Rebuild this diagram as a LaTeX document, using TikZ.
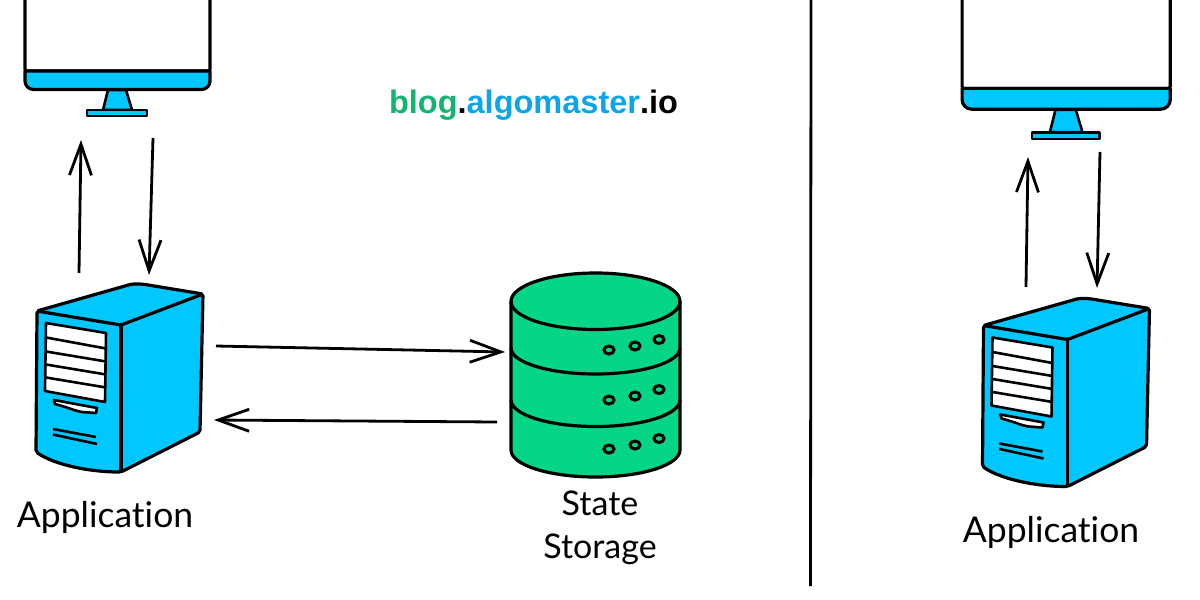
\documentclass[tikz,border=0pt]{standalone}
\usepackage{fontspec}
\setmainfont[Ligatures=NoCommon]{Lato}
\newfontfamily\blogfont{Liberation Sans}
\usetikzlibrary{arrows.meta}
\definecolor{boxblue}{HTML}{00C8FF}
\definecolor{dbgreen}{HTML}{05D586}
\definecolor{logogreen}{HTML}{10B56F}
\definecolor{logoblue}{HTML}{0BA5E9}
\tikzset{
	flow/.style={-{Straight Barb[length=31pt,width=22pt,line width=2.8pt]}, line width=2.8pt},
	outline/.style={draw=black, line width=3.2pt, line join=round, rounded corners=2pt},
	thin outline/.style={draw=black, line width=2.6pt, line join=round},
	caption/.style={font=\fontsize{35.5}{36}\selectfont, align=center},
	led/.style={draw=black, line width=3pt},
	pics/monitor/.style={code={
		\draw[outline, fill=white] (25,-10) -- (25,71) -- (210,71) -- (210,-10);
		\draw[outline, rounded corners=0pt, fill=boxblue] (25,71) -- (25,81) arc[start angle=180, end angle=90, radius=8.5] -- (201.5,89.5) arc[start angle=90, end angle=0, radius=8.5] -- (210,71) -- cycle;
		\draw[thin outline, fill=boxblue] (108,90) -- (103,110) -- (132,110) -- (126,90) -- cycle;
		\draw[thin outline, fill=boxblue] (87,110) rectangle (147,116);
	}},
	pics/server/.style={code={
		\draw[outline, fill=boxblue] (37,311) -- (132,284) -- (142,284) -- (203,294) -- (200,432) -- (121,472) .. controls (90,472) and (55,465) .. (36,452) -- cycle;
		\draw[outline] (37,311) -- (121,325) -- (203,294);
		\draw[outline] (121,325) -- (121,472);
		\draw[thin outline, fill=white] (46,323) -- (106,333) -- (105,402) -- (45,391) -- cycle;
		\foreach \ya/\yb in {337.5/348.5, 351.5/361.5, 364.5/374.5, 377.5/387.5}
			\draw[thin outline] (46,\ya) -- (106,\yb);
		\draw[thin outline, fill=white] (54,400) -- (97,408) -- (96,413) -- (82,412) .. controls (75,411) and (70,408) .. (55,404) -- cycle;
		\draw[thin outline] (53,429) -- (96,437);
		\draw[thin outline] (53,434.5) -- (97,444);
	}},
}
\begin{document}
\begin{tikzpicture}[x=1pt, y=-1pt]
	\clip (0,0) rectangle (1200,600);
	\fill[white] (0,0) rectangle (1200,600);
	% left side
	\pic {monitor};
	\pic {server};
	\node[caption] (appleft) at (105,517) {Application};
	% storage
	\draw[outline, rounded corners=0pt, fill=dbgreen] (511,301.5) -- (511,450) arc[start angle=180, end angle=0, x radius=84.5, y radius=27] -- (680,301.5) arc[start angle=0, end angle=-180, x radius=84.5, y radius=28.5] -- cycle;
	\draw[outline, rounded corners=0pt] (511,301.5) arc[start angle=180, end angle=0, x radius=84.5, y radius=28];
	\draw[outline, rounded corners=0pt] (511,348) arc[start angle=180, end angle=0, x radius=84.5, y radius=26];
	\draw[outline, rounded corners=0pt] (511,400) arc[start angle=180, end angle=0, x radius=84.5, y radius=26.5];
	\foreach \dy in {0,50,99}
		\foreach \dx/\yy in {609/350, 635/346, 659/339.5}
			\draw[led] (\dx,\yy+\dy) ellipse [x radius=5, y radius=4];
	\node[caption, font=\fontsize{34}{43}\selectfont] (statelabel) at (600,528) {State\\Storage};
	\node[font=\blogfont\fontsize{32.5}{34}\selectfont\bfseries] (logo) at (533.5,105) {\textcolor{logogreen}{blog}.\textcolor{logoblue}{algomaster}.io};
	% divider
	\coordinate (divtop) at (811,0);
	\coordinate (divbot) at (810.5,586);
	\draw[line width=2.8pt] (divtop) -- (divbot);
	% right side
	\pic[scale=1.125] at (934,8.5) {monitor};
	\pic at (946.5,14.5) {server};
	\node[caption] (appright) at (1051,532) {Application};
	% connectors
	\coordinate (la) at (79,273);
	\coordinate (lb) at (81,140);
	\coordinate (lc) at (153,138);
	\coordinate (ld) at (149,275);
	\coordinate (se) at (216,346);
	\coordinate (sf) at (505,352);
	\coordinate (sg) at (497,422);
	\coordinate (sh) at (214,420);
	\coordinate (ra) at (1026,287);
	\coordinate (rb) at (1028,157);
	\coordinate (rc) at (1100,152);
	\coordinate (rd) at (1097,288);
	\draw[flow] (la) -- (lb);
	\draw[flow] (lc) -- (ld);
	\draw[flow] (se) -- (sf);
	\draw[flow] (sg) -- (sh);
	\draw[flow] (ra) -- (rb);
	\draw[flow] (rc) -- (rd);
\end{tikzpicture}
\end{document}
